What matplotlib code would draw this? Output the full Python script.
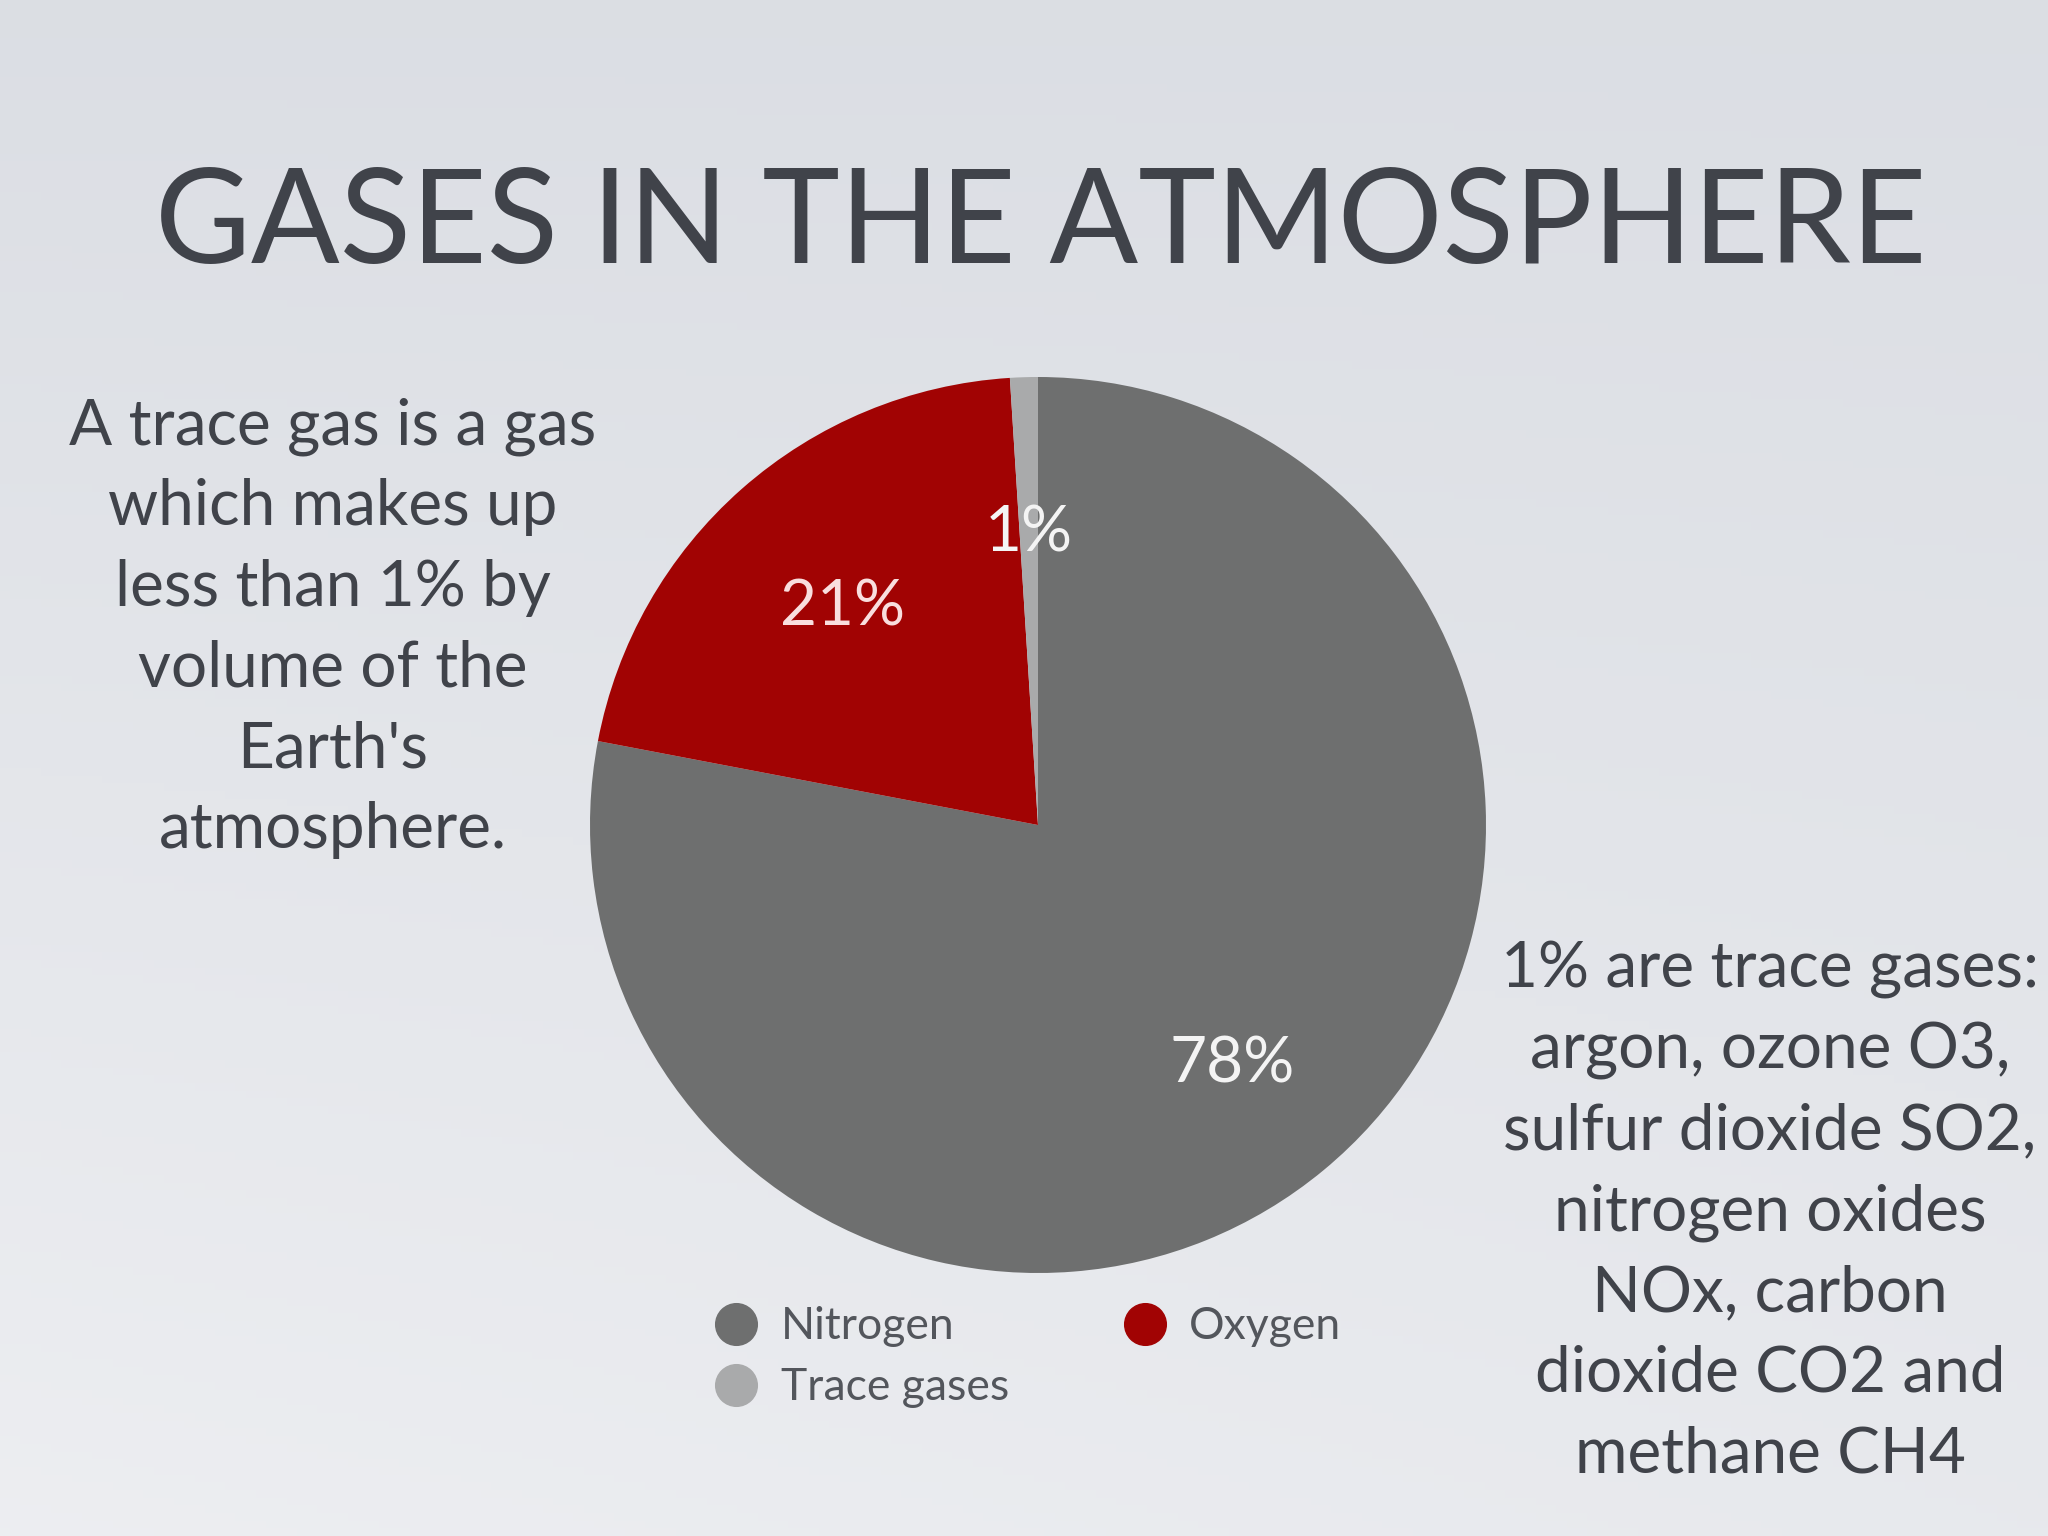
import numpy as np
import matplotlib
matplotlib.use("Agg")
import matplotlib.pyplot as plt
from matplotlib.lines import Line2D

# ---- data ----
categories = ["Nitrogen", "Oxygen", "Trace gases"]
values = [78, 21, 1]
pct_labels = ["78%", "21%", "1%"]
colors = ["#6e6f6f", "#a10303", "#a9aaab"]

title = "GASES IN THE ATMOSPHERE"
left_text = "A trace gas is a gas\nwhich makes up\nless than 1% by\nvolume of the\nEarth's\natmosphere."
right_text = ("1% are trace gases:\nargon, ozone O3,\nsulfur dioxide SO2,\nnitrogen oxides\n"
              "NOx, carbon\ndioxide CO2 and\nmethane CH4")

FONT = ["Lato", "DejaVu Sans"]
TXT = "#40434a"

W, H = 2048, 1536
fig = plt.figure(figsize=(W / 100, H / 100), dpi=100)

# background gradient
bg = fig.add_axes([0, 0, 1, 1])
yy, xx = np.mgrid[0:1:200j, 0:1:200j]
t = np.clip(0.55 * yy + 0.25 * (1 - xx) * yy + 0.1, 0, 1)
c0 = np.array([0xd9, 0xdc, 0xe2]) / 255
c1 = np.array([0xef, 0xf0, 0xf3]) / 255
img = c0[None, None, :] * (1 - t[..., None]) + c1[None, None, :] * t[..., None]
bg.imshow(img, extent=[0, 1, 0, 1], origin="upper", aspect="auto")
bg.set_xlim(0, 1); bg.set_ylim(0, 1)
bg.axis("off")

# title
fig.text(0.508, 1 - 226 / H, title, ha="center", va="center", fontsize=94.5,
         color=TXT, family=FONT, fontweight="normal")

# pie
cx, cy, r = 1038, 825, 448
ax = fig.add_axes([(cx - r) / W, 1 - (cy + r) / H, 2 * r / W, 2 * r / H])
wedges, _ = ax.pie(values, colors=colors, startangle=90, counterclock=False,
                   radius=1.0, wedgeprops=dict(linewidth=0))
ax.set_xlim(-1, 1); ax.set_ylim(-1, 1)
ax.set_aspect("equal")
ax.axis("off")

# percentage labels placed along each wedge's mid-angle
label_r = [0.68, 0.66, 0.66]
label_colors = ["#f4f4f4", "#f9dede", "#f4f4f4"]
for w, lab, rr, lc in zip(wedges, pct_labels, label_r, label_colors):
    ang = np.deg2rad((w.theta1 + w.theta2) / 2)
    ax.text(rr * np.cos(ang), rr * np.sin(ang) - 0.01, lab, ha="center", va="center",
            fontsize=46, color=lc, family=FONT, fontweight="normal")

# side texts
fig.text(333 / W, 1 - 628 / H, left_text, ha="center", va="center", fontsize=46,
         color=TXT, family=FONT, fontweight="normal", linespacing=1.48)
fig.text(1770 / W, 1 - 1212 / H, right_text, ha="center", va="center", fontsize=46,
         color=TXT, family=FONT, fontweight="normal", linespacing=1.48)

# legend
order = [0, 2, 1]
handles = [Line2D([], [], marker="o", linestyle="none", markersize=30,
                  markerfacecolor=colors[i], markeredgecolor=colors[i]) for i in order]
labels = [categories[i] for i in order]
leg = fig.legend(handles, labels, ncol=2, loc="upper left",
                 bbox_to_anchor=(692 / W, 1 - 1284 / H), frameon=False,
                 prop=dict(family=FONT, size=32, weight="normal"),
                 handletextpad=0.5, columnspacing=2.55, labelspacing=0.45,
                 handlelength=1.0, borderpad=0)
for t_ in leg.get_texts():
    t_.set_color("#53565c")

fig.savefig("out.png", dpi=100)
